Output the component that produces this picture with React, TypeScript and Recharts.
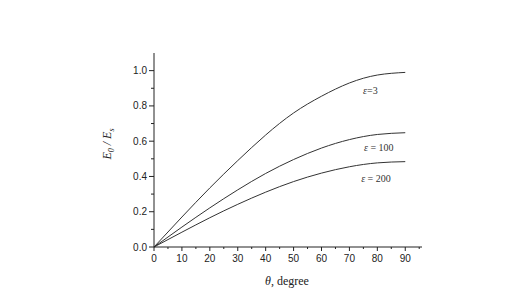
import { LineChart, Line, XAxis, YAxis, ReferenceDot, Label } from "recharts"

const angles = [0, 10, 20, 30, 40, 50, 60, 70, 80, 90]
const eps3 = [0, 0.17, 0.335, 0.49, 0.635, 0.76, 0.855, 0.93, 0.975, 0.99]
const eps100 = [0, 0.113, 0.222, 0.324, 0.417, 0.496, 0.561, 0.609, 0.638, 0.648]
const eps200 = [0, 0.084, 0.166, 0.242, 0.311, 0.371, 0.419, 0.455, 0.477, 0.484]

const xTicks = [0, 5, 10, 15, 20, 25, 30, 35, 40, 45, 50, 55, 60, 65, 70, 75, 80, 85, 90, 95]
const yTicks = [0, 0.1, 0.2, 0.3, 0.4, 0.5, 0.6, 0.7, 0.8, 0.9, 1.0]

const curveLabels = [
  { x: 77.5, y: 0.885, text: "=3" },
  { x: 80.5, y: 0.56, text: " = 100" },
  { x: 79.5, y: 0.385, text: " = 200" },
]

const data = angles.map((a, i) => ({ angle: a, e3: eps3[i], e100: eps100[i], e200: eps200[i] }))

const axisColor = "#222"
const sans = "'Liberation Sans', Arial, sans-serif"
const serif = "'Liberation Serif', 'Times New Roman', serif"

function XTick(props: any) {
  const { x, y, payload } = props
  const major = payload.value % 10 === 0
  return (
    <g>
      <line x1={x} x2={x} y1={y} y2={y + (major ? 4 : 2)} stroke={axisColor} />
      {major && (
        <text x={x} y={y + 15} textAnchor="middle" fontSize={10} fontFamily={sans} fill="#222">
          {payload.value}
        </text>
      )}
    </g>
  )
}

function YTick(props: any) {
  const { x, y, payload } = props
  const major = Math.round(payload.value * 10) % 2 === 0
  return (
    <g>
      <line x1={x} x2={x - (major ? 5 : 3)} y1={y} y2={y} stroke={axisColor} />
      {major && (
        <text x={x - 7} y={y + 3.5} textAnchor="end" fontSize={10} fontFamily={sans} fill="#222">
          {payload.value.toFixed(1)}
        </text>
      )}
    </g>
  )
}

function YTitle(props: any) {
  const { viewBox } = props
  const cx = viewBox.x + 17
  const cy = viewBox.y + viewBox.height / 2 - 6
  return (
    <text
      x={cx}
      y={cy}
      transform={`rotate(-90 ${cx} ${cy})`}
      textAnchor="middle"
      fontSize={12}
      fontFamily={serif}
      fontStyle="italic"
      fill="#222"
    >
      E<tspan fontSize={8} dy={3}>0</tspan>
      <tspan dy={-3}> / E</tspan>
      <tspan fontSize={8} dy={3}>s</tspan>
    </text>
  )
}

function XTitle(props: any) {
  const { viewBox } = props
  return (
    <text
      x={viewBox.x + viewBox.width / 2 - 1}
      y={viewBox.y + 38}
      textAnchor="middle"
      fontSize={12}
      fontFamily={serif}
      fill="#222"
    >
      <tspan fontStyle="italic">θ</tspan>, degree
    </text>
  )
}

function CurveLabel(props: any) {
  const { viewBox, text } = props
  return (
    <text x={viewBox.x} y={viewBox.y + 3} textAnchor="middle" fontSize={10} fontFamily={serif} fill="#333">
      <tspan fontStyle="italic">ε</tspan>
      <tspan>{text}</tspan>
    </text>
  )
}

export default function App() {
  return (
    <div style={{ position: "absolute", left: 0, top: 0, background: "#fff" }}>
      <LineChart width={511} height={302} data={data} margin={{ top: 53, right: 89, bottom: 15, left: 94 }}>
        <XAxis
          dataKey="angle"
          type="number"
          domain={[0, 96]}
          ticks={xTicks}
          interval={0}
          tickSize={0}
          tickMargin={0}
          height={40}
          stroke={axisColor}
          tick={<XTick />}
        >
          <Label content={<XTitle />} />
        </XAxis>
        <YAxis
          type="number"
          domain={[0, 1.1]}
          ticks={yTicks}
          interval={0}
          tickSize={0}
          tickMargin={0}
          width={60}
          stroke={axisColor}
          tick={<YTick />}
        >
          <Label content={<YTitle />} />
        </YAxis>
        <Line type="natural" dataKey="e3" stroke="#333" strokeWidth={1} dot={false} isAnimationActive={false} />
        <Line type="natural" dataKey="e100" stroke="#333" strokeWidth={1} dot={false} isAnimationActive={false} />
        <Line type="natural" dataKey="e200" stroke="#333" strokeWidth={1} dot={false} isAnimationActive={false} />
        {curveLabels.map((c) => (
          <ReferenceDot
            key={c.text}
            x={c.x}
            y={c.y}
            r={0}
            fill="none"
            stroke="none"
            label={<CurveLabel text={c.text} />}
          />
        ))}
      </LineChart>
    </div>
  )
}
